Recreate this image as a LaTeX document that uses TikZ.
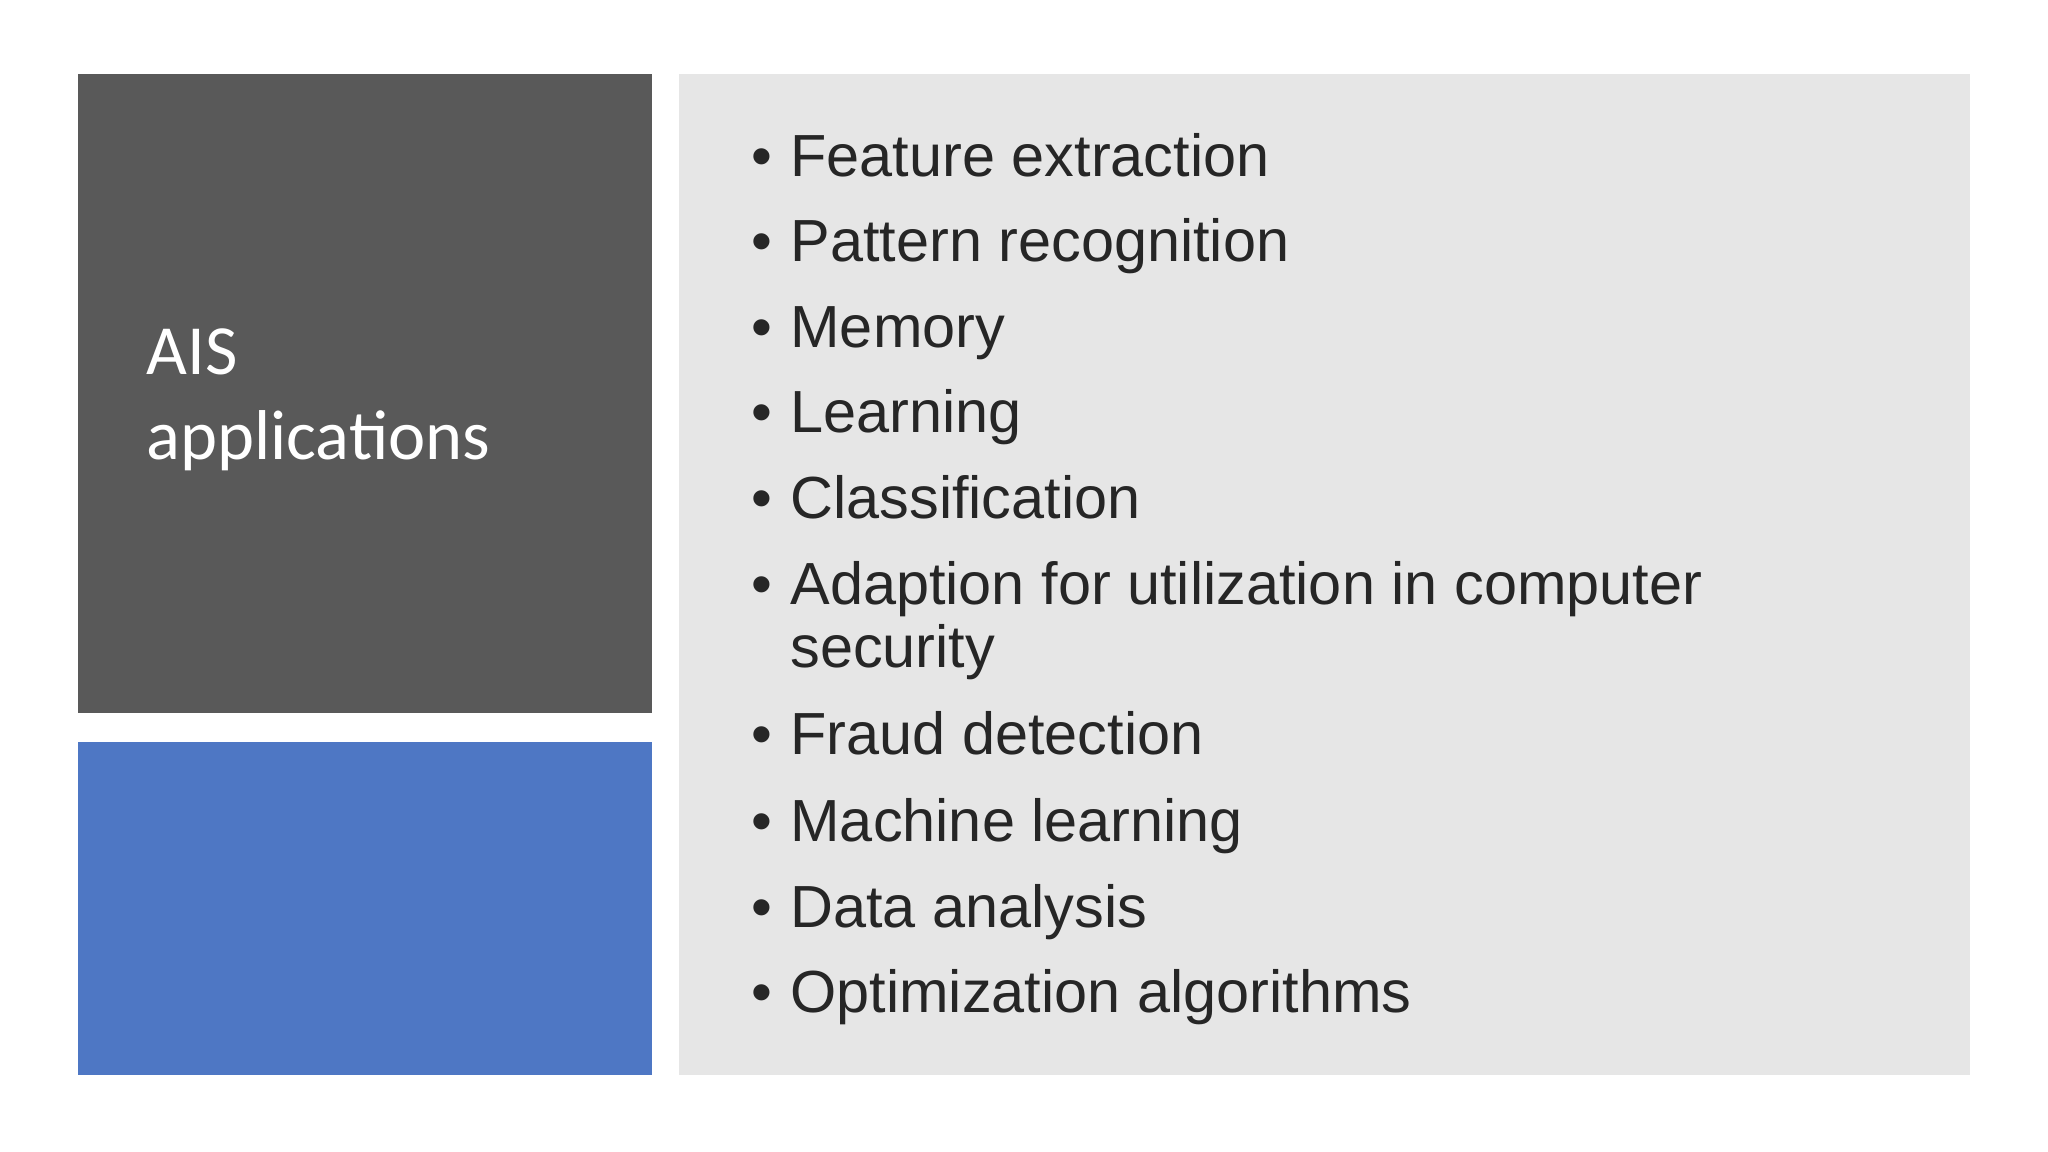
\documentclass[tikz,border=0pt]{standalone}
\usepackage{fontspec}
\setmainfont{Liberation Sans}
\newfontfamily\titlefont{Carlito}
\definecolor{darkbox}{HTML}{595959}
\definecolor{bluebox}{HTML}{4E77C4}
\definecolor{graybox}{HTML}{E6E6E6}
\definecolor{txt}{HTML}{262626}
\begin{document}
\begin{tikzpicture}[x=1pt,y=-1pt,
  item/.style={anchor=base west,inner sep=0pt,text=txt,font=\fontsize{45.5}{48}\selectfont},
  ttl/.style={anchor=base west,inner sep=0pt,text=white,font=\titlefont\fontsize{54}{60}\selectfont}]
\useasboundingbox[fill=white] (0,0) rectangle (1568,882);
\fill[darkbox] (60,57) rectangle (499,546);
\fill[bluebox] (60,568) rectangle (499,823);
\fill[graybox] (520,57) rectangle (1508,823);
\node[ttl] (t1) at (112,287) {AIS};
\node[ttl] (t2) at (112,352) {applications};
\foreach \y/\t [count=\i] in {135/Feature extraction,200/Pattern recognition,266/Memory,331/Learning,397/Classification,463/Adaption for utilization in computer,578/Fraud detection,644/Machine learning,710/Data analysis,775/Optimization algorithms}{
  \node[item] (b\i) at (575,\y) {•};
  \node[item] (i\i) at (605,\y) {\t};
}
\node[item] (sec) at (605,511) {security};
\end{tikzpicture}
\end{document}
